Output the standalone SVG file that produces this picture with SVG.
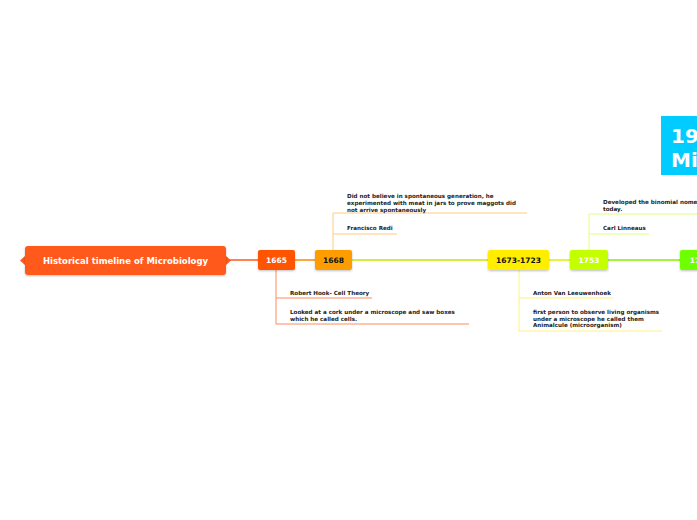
<svg xmlns="http://www.w3.org/2000/svg" width="697" height="520" viewBox="0 0 697 520">
<style>
text{font-family:"DejaVu Sans",Verdana,sans-serif;font-weight:bold}
.s{font-size:5.6px;fill:#222}
.n{font-size:7.5px;text-anchor:middle}
.l{fill:none;stroke-width:1}
</style>
<defs><filter id="sh" x="-20%" y="-20%" width="140%" height="150%"><feDropShadow dx="0" dy="1" stdDeviation="1" flood-opacity="0.25"/></filter></defs>
<rect width="697" height="520" fill="#fff"/>
<g id="connectors">
<line x1="226" y1="260" x2="258" y2="260" stroke="#ff5a1a" stroke-width="1.5"/>
<line x1="295" y1="260" x2="315" y2="260" stroke="#ff8800" stroke-width="1.5"/>
<line x1="352" y1="260" x2="488" y2="260" stroke="#c8e600" stroke-width="1.5"/>
<line x1="549" y1="260" x2="570" y2="260" stroke="#dcf000" stroke-width="1.5"/>
<line x1="608" y1="260" x2="680" y2="260" stroke="#88ee00" stroke-width="1.5"/>
<path class="l" stroke="#ff8a60" d="M276 270V324H469M276 298H372"/>
<path class="l" stroke="#ffcc80" d="M333 250V213H527M333 234H397"/>
<path class="l" stroke="#fff080" d="M519 270V331H662M519 298H613"/>
<path class="l" stroke="#e0ff80" d="M589 250V214H697M589 234H649"/>
</g>
<g id="root">
<path d="M25 256L20 260.5L25 265Z M226 256L231 260.5L226 265Z" fill="#ff5a1a"/>
<rect x="25" y="246" width="201" height="29" rx="3" fill="#ff5a1a" filter="url(#sh)"/>
<text x="125.5" y="264" font-size="8.5" fill="#fff" text-anchor="middle">Historical timeline of Microbiology</text>
</g>
<g id="n1665"><rect x="258" y="250" width="37" height="20" rx="2" fill="#ff5505" filter="url(#sh)"/><text class="n" x="276.5" y="263" fill="#fff">1665</text></g>
<g id="n1668"><rect x="315" y="250" width="37" height="20" rx="2" fill="#ff9d00" filter="url(#sh)"/><text class="n" x="333.5" y="263" fill="#111">1668</text></g>
<g id="n1673"><rect x="488" y="250" width="61" height="20" rx="2" fill="#ffee00" filter="url(#sh)"/><text class="n" x="518.5" y="263" fill="#111">1673-1723</text></g>
<g id="n1753"><rect x="570" y="250" width="38" height="20" rx="2" fill="#c4ff00" filter="url(#sh)"/><text class="n" x="589" y="263" fill="#fff">1753</text></g>
<g id="nnext"><rect x="680" y="250" width="30" height="20" rx="2" fill="#6eff00" filter="url(#sh)"/><text class="n" x="695" y="263" fill="#fff">17</text></g>
<g id="title"><rect x="661" y="116" width="50" height="59" fill="#00ccff"/><text x="671" y="143" font-size="20" fill="#fff">19</text><text x="671" y="167" font-size="20" fill="#fff">Mi</text></g>
<g id="texts">
<text class="s" x="290" y="295">Robert Hook- Cell Theory</text>
<text class="s" x="290" y="314">Looked at a cork under a microscope and saw boxes</text>
<text class="s" x="290" y="321">which he called cells.</text>
<text class="s" x="347" y="198">Did not believe in spontaneous generation, he</text>
<text class="s" x="347" y="205">experimented with meat in jars to prove maggots did</text>
<text class="s" x="347" y="212">not arrive spontaneously</text>
<text class="s" x="347" y="230">Francisco Redi</text>
<text class="s" x="533" y="295">Anton Van Leeuwenhoek</text>
<text class="s" x="533" y="314">first person to observe living organisms</text>
<text class="s" x="533" y="321">under a microscope he called them</text>
<text class="s" x="533" y="327">Animalcule (microorganism)</text>
<text class="s" x="603" y="204">Developed the binomial nomenclature</text>
<text class="s" x="603" y="211">today.</text>
<text class="s" x="603" y="230">Carl Linneaus</text>
</g>
</svg>
